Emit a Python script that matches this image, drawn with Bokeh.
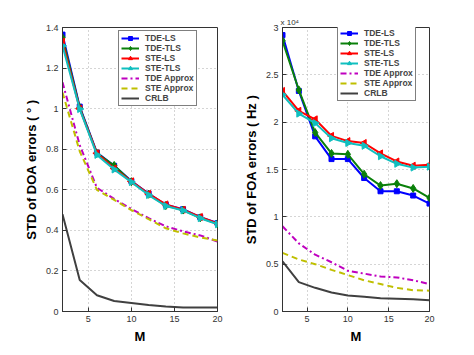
import math
from bokeh.plotting import figure
from bokeh.layouts import row
from bokeh.models import FixedTicker, CustomJSTickFormatter, Range1d
from bokeh.embed import file_html
from bokeh.resources import INLINE

M = [2, 4, 6, 8, 10, 12, 14, 16, 18, 20]

# DOA (degrees)
doa_tde_ls = [1.365, 1.01, 0.783, 0.718, 0.643, 0.581, 0.526, 0.504, 0.465, 0.436]
doa_tde_tls = [1.35, 1.005, 0.78, 0.72, 0.64, 0.578, 0.522, 0.50, 0.462, 0.432]
doa_ste_ls = [1.33, 1.0, 0.78, 0.705, 0.642, 0.58, 0.528, 0.502, 0.466, 0.434]
doa_ste_tls = [1.31, 0.998, 0.772, 0.70, 0.638, 0.574, 0.52, 0.498, 0.46, 0.43]
doa_tde_approx = [1.13, 0.82, 0.61, 0.555, 0.505, 0.46, 0.42, 0.395, 0.375, 0.345]
doa_ste_approx = [1.08, 0.79, 0.60, 0.55, 0.50, 0.455, 0.41, 0.385, 0.365, 0.35]
doa_crlb = [0.48, 0.155, 0.08, 0.052, 0.042, 0.032, 0.025, 0.02, 0.02, 0.02]

# FOA (x 10^4 Hz)
foa_tde_ls = [2.92, 2.33, 1.85, 1.61, 1.61, 1.41, 1.27, 1.27, 1.225, 1.14]
foa_tde_tls = [2.86, 2.34, 1.89, 1.67, 1.66, 1.45, 1.33, 1.35, 1.30, 1.20]
foa_ste_ls = [2.33, 2.12, 2.03, 1.855, 1.80, 1.78, 1.67, 1.585, 1.54, 1.55]
foa_ste_tls = [2.29, 2.09, 1.99, 1.83, 1.78, 1.75, 1.64, 1.56, 1.52, 1.53]
foa_tde_approx = [0.90, 0.72, 0.60, 0.52, 0.43, 0.40, 0.37, 0.36, 0.33, 0.29]
foa_ste_approx = [0.62, 0.55, 0.50, 0.44, 0.385, 0.33, 0.29, 0.25, 0.225, 0.22]
foa_crlb = [0.53, 0.31, 0.25, 0.20, 0.17, 0.155, 0.14, 0.135, 0.13, 0.12]

doa_yticks = [0, 0.2, 0.4, 0.6, 0.8, 1, 1.2, 1.4]
foa_yticks = [0, 0.5, 1, 1.5, 2, 2.5, 3]
xticks = [5, 10, 15, 20]

BLUE = "#0000ff"
GREEN = "#0a800a"
RED = "#ff0000"
CYAN = "#10bfbf"
MAGENTA = "#bf00bf"
YELLOW = "#bfbf00"
GRAY = "#404040"
FONT = "Liberation Sans"


def make_fig(width, bl, br, ymax, yticks, ylabel, series, title, legend_xy):
    p = figure(width=width, height=346, output_backend="svg", toolbar_location=None,
               x_range=Range1d(2, 20), y_range=Range1d(0, ymax),
               min_border_left=bl, min_border_right=br, min_border_top=27,
               min_border_bottom=30, title=title)
    p.title.text_font = FONT
    p.title.text_font_size = "8px"
    p.title.text_font_style = "normal"
    p.title.text_color = "#333333"
    p.title.offset = -2
    p.title.standoff = 2
    p.background_fill_color = "white"
    p.border_fill_color = "white"
    p.outline_line_color = "#333333"
    p.outline_line_width = 1
    p.xaxis.ticker = FixedTicker(ticks=xticks)
    p.yaxis.ticker = FixedTicker(ticks=yticks)
    p.xaxis.formatter = CustomJSTickFormatter(code="return tick.toString();")
    p.yaxis.formatter = CustomJSTickFormatter(code="return tick.toString();")
    for ax in (p.xaxis[0], p.yaxis[0]):
        ax.major_tick_in = 4
        ax.major_tick_out = 0
        ax.minor_tick_in = 0
        ax.minor_tick_out = 0
        ax.axis_line_color = "#333333"
        ax.major_tick_line_color = "#333333"
        ax.major_label_text_font = FONT
        ax.major_label_text_font_size = "9px"
        ax.major_label_text_color = "#333333"
        ax.major_label_standoff = 4
        ax.axis_label_text_font = FONT
        ax.axis_label_text_font_style = "bold"
        ax.axis_label_text_font_size = "13px"
        ax.axis_label_text_color = "black"
        ax.axis_label_standoff = 4
    p.xaxis.axis_label = "M"
    p.yaxis.axis_label = ylabel
    p.grid.grid_line_color = "#aaaaaa"
    p.grid.grid_line_dash = "1 3"
    p.grid.grid_line_width = 1
    p.xgrid.ticker = FixedTicker(ticks=xticks)
    p.ygrid.ticker = FixedTicker(ticks=yticks)

    tde_ls, tde_tls, ste_ls, ste_tls, tde_ap, ste_ap, crlb = series
    p.line(M, tde_ls, color=BLUE, line_width=2, legend_label="TDE-LS")
    p.scatter(M, tde_ls, marker="square", size=5, color=BLUE, legend_label="TDE-LS")
    p.line(M, tde_tls, color=GREEN, line_width=2, legend_label="TDE-TLS")
    p.scatter(M, tde_tls, marker="diamond", size=8, color=GREEN, legend_label="TDE-TLS")
    p.line(M, ste_ls, color=RED, line_width=2, legend_label="STE-LS")
    p.scatter(M, ste_ls, marker="triangle", angle=math.pi / 2, size=7, color=RED, legend_label="STE-LS")
    p.line(M, ste_tls, color=CYAN, line_width=2, legend_label="STE-TLS")
    p.scatter(M, ste_tls, marker="triangle", angle=-math.pi / 2, size=7, color=CYAN, legend_label="STE-TLS")
    p.line(M, tde_ap, color=MAGENTA, line_width=2, line_dash="6 3 2 3", legend_label="TDE Approx")
    p.line(M, ste_ap, color=YELLOW, line_width=2, line_dash="6 4", legend_label="STE Approx")
    p.line(M, crlb, color=GRAY, line_width=2, legend_label="CRLB")

    lg = p.legend[0]
    lg.location = legend_xy
    lg.label_text_font = FONT
    lg.label_text_font_size = "8.5px"
    lg.label_text_font_style = "bold"
    lg.label_height = 10
    lg.glyph_height = 10
    lg.glyph_width = 18
    lg.label_standoff = 6
    lg.spacing = 0
    lg.padding = 2
    lg.margin = 0
    lg.border_line_color = "black"
    lg.border_line_width = 1
    lg.background_fill_alpha = 1
    return p


p1 = make_fig(240, 62, 23, 1.4, doa_yticks, "STD of DOA errors ( ° )",
              (doa_tde_ls, doa_tde_tls, doa_ste_ls, doa_ste_tls, doa_tde_approx, doa_ste_approx, doa_crlb),
              "", (56, 205))
p2 = make_fig(234, 34, 45, 3, foa_yticks, "STD of FOA errors ( Hz )",
              (foa_tde_ls, foa_tde_tls, foa_ste_ls, foa_ste_tls, foa_tde_approx, foa_ste_approx, foa_crlb),
              "x 10⁴", (55, 210))

layout = row(p1, p2)
open("out.html", "w").write(file_html(layout, INLINE))
